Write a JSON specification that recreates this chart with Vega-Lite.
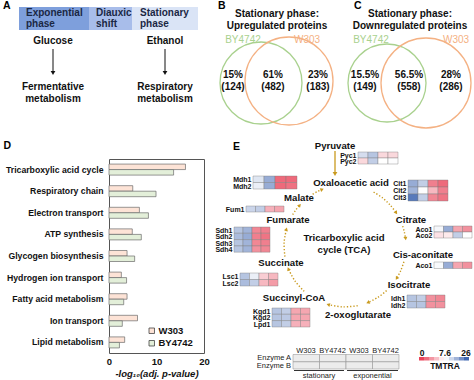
{
 "$schema": "https://vega.github.io/schema/vega-lite/v6.json",
 "padding": {"left": 2, "top": 0, "right": 0, "bottom": 0},
 "spacing": 0,
 "resolve": {"scale": {"fill": "independent", "color": "independent", "stroke": "independent", "size": "independent"}},
 "config": {
  "font": "Liberation Sans",
  "view": {"stroke": null},
  "axis": {"labelFont": "Liberation Sans", "titleFont": "Liberation Sans"},
  "legend": {"labelFont": "Liberation Sans"},
  "title": {"font": "Liberation Sans"},
  "text": {"font": "Liberation Sans"}
 },
 "datasets": {
  "hdr": [
   {"phase": "Exponential", "x": 18, "x2": 88, "y": 7, "y2": 30},
   {"phase": "Diauxic", "x": 88, "x2": 131, "y": 7, "y2": 30},
   {"phase": "Stationary", "x": 131, "x2": 197, "y": 7, "y2": 30}
  ],
  "hdrtext": [
   {"t": "Exponential", "x": 25, "y": 13}, {"t": "phase", "x": 25, "y": 24},
   {"t": "Diauxic", "x": 95, "y": 13}, {"t": "shift", "x": 95, "y": 24},
   {"t": "Stationary", "x": 139, "y": 13}, {"t": "phase", "x": 139, "y": 24}
  ],
  "atext": [
   {"t": "Glucose", "x": 52, "y": 41}, {"t": "Ethanol", "x": 164, "y": 41},
   {"t": "Fermentative", "x": 52, "y": 87}, {"t": "metabolism", "x": 52, "y": 99},
   {"t": "Respiratory", "x": 164, "y": 87}, {"t": "metabolism", "x": 164, "y": 99}
  ],
  "aarrow": [{"x": 52, "y": 49, "y2": 72}, {"x": 164, "y": 49, "y2": 72}],
  "aarrowhead": [{"x": 52, "y": 73}, {"x": 164, "y": 73}],
  "letters": [{"t": "A", "x": 2, "y": 1}, {"t": "B", "x": 217, "y": 1}, {"t": "C", "x": 353, "y": 1}],
  "venntitle": [
   {"t": "Stationary phase:", "x": 276, "y": 14}, {"t": "Upregulated proteins", "x": 276, "y": 26},
   {"t": "Stationary phase:", "x": 409, "y": 14}, {"t": "Downregulated proteins", "x": 409, "y": 26}
  ],
  "vennpct": [
   {"t": "15%", "x": 232, "y": 75}, {"t": "(124)", "x": 232, "y": 87},
   {"t": "61%", "x": 272, "y": 75}, {"t": "(482)", "x": 272, "y": 87},
   {"t": "23%", "x": 317, "y": 75}, {"t": "(183)", "x": 317, "y": 87},
   {"t": "15.5%", "x": 364, "y": 75}, {"t": "(149)", "x": 364, "y": 87},
   {"t": "56.5%", "x": 408, "y": 75}, {"t": "(558)", "x": 408, "y": 87},
   {"t": "28%", "x": 450, "y": 75}, {"t": "(286)", "x": 450, "y": 87}
  ],
  "vennlab": [
   {"t": "BY4742", "strain": "BY4742", "x": 242, "y": 40}, {"t": "W303", "strain": "W303", "x": 306, "y": 40},
   {"t": "BY4742", "strain": "BY4742", "x": 370, "y": 40}, {"t": "W303", "strain": "W303", "x": 455, "y": 40}
  ],
  "venncirc": [
   {"strain": "BY4742", "x": 260, "y": 83, "r": 41}, {"strain": "W303", "x": 288, "y": 81, "r": 44},
   {"strain": "BY4742", "x": 386, "y": 83, "r": 39}, {"strain": "W303", "x": 425, "y": 83, "r": 45}
  ],
  "go": [
   {"term": "Tricarboxylic acid cycle", "strain": "W303", "value": 16.1},
   {"term": "Tricarboxylic acid cycle", "strain": "BY4742", "value": 13.6},
   {"term": "Respiratory chain", "strain": "W303", "value": 5.0},
   {"term": "Respiratory chain", "strain": "BY4742", "value": 9.9},
   {"term": "Electron transport", "strain": "W303", "value": 6.4},
   {"term": "Electron transport", "strain": "BY4742", "value": 8.3},
   {"term": "ATP synthesis", "strain": "W303", "value": 4.9},
   {"term": "ATP synthesis", "strain": "BY4742", "value": 6.8},
   {"term": "Glycogen biosynthesis", "strain": "W303", "value": 3.8},
   {"term": "Glycogen biosynthesis", "strain": "BY4742", "value": 5.4},
   {"term": "Hydrogen ion transport", "strain": "W303", "value": 2.6},
   {"term": "Hydrogen ion transport", "strain": "BY4742", "value": 3.7},
   {"term": "Fatty acid metabolism", "strain": "W303", "value": 3.8},
   {"term": "Fatty acid metabolism", "strain": "BY4742", "value": 3.1},
   {"term": "Ion transport", "strain": "W303", "value": 6.0},
   {"term": "Ion transport", "strain": "BY4742", "value": 2.8},
   {"term": "Lipid metabolism", "strain": "W303", "value": 3.3},
   {"term": "Lipid metabolism", "strain": "BY4742", "value": 2.2}
  ],
  "tca": [
   {"seg": 1, "o": 1, "x": 372.6, "y": 192.1}, {"seg": 1, "o": 2, "x": 381.6, "y": 197.9}, {"seg": 1, "o": 3, "x": 389.3, "y": 205.2}, {"seg": 1, "o": 4, "x": 395.2, "y": 212.8},
   {"seg": 2, "o": 1, "x": 401.7, "y": 226.1}, {"seg": 2, "o": 2, "x": 403.4, "y": 232.3}, {"seg": 2, "o": 3, "x": 404.6, "y": 238.6},
   {"seg": 3, "o": 1, "x": 402.9, "y": 261.8}, {"seg": 3, "o": 2, "x": 399.7, "y": 270.8}, {"seg": 3, "o": 3, "x": 395.7, "y": 278.3},
   {"seg": 4, "o": 1, "x": 385.6, "y": 290.6}, {"seg": 4, "o": 2, "x": 377.2, "y": 297.2}, {"seg": 4, "o": 3, "x": 366.9, "y": 302.6},
   {"seg": 5, "o": 1, "x": 356.7, "y": 305.7}, {"seg": 5, "o": 2, "x": 341.9, "y": 306.9}, {"seg": 5, "o": 3, "x": 327.2, "y": 304.6},
   {"seg": 6, "o": 1, "x": 303.2, "y": 291.3}, {"seg": 6, "o": 2, "x": 294.0, "y": 281.0}, {"seg": 6, "o": 3, "x": 287.4, "y": 268.9},
   {"seg": 7, "o": 1, "x": 283.9, "y": 256.6}, {"seg": 7, "o": 2, "x": 283.1, "y": 242.8}, {"seg": 7, "o": 3, "x": 285.4, "y": 229.2},
   {"seg": 8, "o": 1, "x": 291.7, "y": 214.6}, {"seg": 8, "o": 2, "x": 294.7, "y": 210.1}, {"seg": 8, "o": 3, "x": 298.7, "y": 205.2},
   {"seg": 9, "o": 1, "x": 311.7, "y": 194.3}, {"seg": 9, "o": 2, "x": 316.3, "y": 191.6}, {"seg": 9, "o": 3, "x": 321.1, "y": 189.5}
  ],
  "tcahead": [
   {"x": 395.2, "y": 212.8, "a": 147}, {"x": 404.6, "y": 238.6, "a": 173}, {"x": 395.7, "y": 278.3, "a": 212},
   {"x": 366.9, "y": 302.6, "a": 248}, {"x": 327.2, "y": 304.6, "a": 286}, {"x": 287.4, "y": 268.9, "a": 338},
   {"x": 285.4, "y": 229.2, "a": 16}, {"x": 298.7, "y": 205.2, "a": 42}, {"x": 321.1, "y": 189.5, "a": 68}
  ],
  "pyrarrow": [{"x": 334, "y": 151, "y2": 172}],
  "pyrhead": [{"x": 334, "y": 174}],
  "metab": [
   {"t": "Pyruvate", "x": 334, "y": 145.5}, {"t": "Oxaloacetic acid", "x": 350, "y": 183},
   {"t": "Citrate", "x": 410, "y": 220}, {"t": "Cis-aconitate", "x": 422, "y": 255},
   {"t": "Isocitrate", "x": 408, "y": 285}, {"t": "2-oxoglutarate", "x": 357, "y": 315},
   {"t": "Succinyl-CoA", "x": 293, "y": 298}, {"t": "Succinate", "x": 280, "y": 263},
   {"t": "Fumarate", "x": 287, "y": 220}, {"t": "Malate", "x": 298, "y": 198},
   {"t": "Tricarboxylic  acid", "x": 343, "y": 238}, {"t": "cycle (TCA)", "x": 343, "y": 250}
  ],
  "heat": [
   {"e": "Pyc1", "x1": 357, "x2": 367, "x3": 377, "x4": 387, "x5": 397, "y": 152, "y2": 158, "v1": 11.3, "v2": 14, "v3": 6.1, "v4": 6.1},
   {"e": "Pyc2", "x1": 357, "x2": 367, "x3": 377, "x4": 387, "x5": 397, "y": 158, "y2": 164, "v1": 6.1, "v2": 13, "v3": 7.6, "v4": 7.8},
   {"e": "Mdh1", "x1": 252, "x2": 263, "x3": 274, "x4": 285, "x5": 296, "y": 176, "y2": 182.5, "v1": 10.4, "v2": 16.8, "v3": 1.9, "v4": 1.9},
   {"e": "Mdh2", "x1": 252, "x2": 263, "x3": 274, "x4": 285, "x5": 296, "y": 182.5, "y2": 189, "v1": 9.4, "v2": 16.8, "v3": 1.9, "v4": 2.2},
   {"e": "Cit1", "x1": 407, "x2": 417, "x3": 427, "x4": 437, "x5": 447, "y": 180, "y2": 187, "v1": 16.8, "v2": 13, "v3": 2.7, "v4": 1.9},
   {"e": "Cit2", "x1": 407, "x2": 417, "x3": 427, "x4": 437, "x5": 447, "y": 187, "y2": 194, "v1": 15.9, "v2": 7.8, "v3": 4.9, "v4": 2.7},
   {"e": "Cit3", "x1": 407, "x2": 417, "x3": 427, "x4": 437, "x5": 447, "y": 194, "y2": 201, "v1": 22.3, "v2": 13, "v3": 3, "v4": 2.3},
   {"e": "Fum1", "x1": 245, "x2": 254.5, "x3": 264, "x4": 273.5, "x5": 283, "y": 206, "y2": 212, "v1": 12.2, "v2": 13, "v3": 4.6, "v4": 4.2},
   {"e": "Sdh1", "x1": 233, "x2": 242, "x3": 251, "x4": 260, "x5": 269, "y": 227, "y2": 233.3, "v1": 14, "v2": 15.9, "v3": 3, "v4": 2.7},
   {"e": "Sdh2", "x1": 233, "x2": 242, "x3": 251, "x4": 260, "x5": 269, "y": 233.3, "y2": 239.6, "v1": 15, "v2": 16.8, "v3": 2.7, "v4": 2.3},
   {"e": "Sdh3", "x1": 233, "x2": 242, "x3": 251, "x4": 260, "x5": 269, "y": 239.6, "y2": 245.9, "v1": 14, "v2": 15.9, "v3": 3, "v4": 2.7},
   {"e": "Sdh4", "x1": 233, "x2": 242, "x3": 251, "x4": 260, "x5": 269, "y": 245.9, "y2": 252.2, "v1": 14, "v2": 15.9, "v3": 3.4, "v4": 3},
   {"e": "Lsc1", "x1": 239, "x2": 248.5, "x3": 258, "x4": 267.5, "x5": 277, "y": 273, "y2": 279.5, "v1": 14, "v2": 9.4, "v3": 5.7, "v4": 4.9},
   {"e": "Lsc2", "x1": 239, "x2": 248.5, "x3": 258, "x4": 267.5, "x5": 277, "y": 279.5, "y2": 286, "v1": 15, "v2": 13, "v3": 4.9, "v4": 3.8},
   {"e": "Aco1", "x1": 433, "x2": 442.5, "x3": 452, "x4": 461.5, "x5": 471, "y": 226, "y2": 232, "v1": 8.5, "v2": 16.8, "v3": 4.2, "v4": 3.4},
   {"e": "Aco2", "x1": 433, "x2": 442.5, "x3": 452, "x4": 461.5, "x5": 471, "y": 232, "y2": 238, "v1": 6.5, "v2": 6.8, "v3": 13, "v4": 7.6},
   {"e": "Aco1", "x1": 433, "x2": 442.5, "x3": 452, "x4": 461.5, "x5": 471, "y": 262, "y2": 268.5, "v1": 8.2, "v2": 16.8, "v3": 4.2, "v4": 3.4},
   {"e": "Idh1", "x1": 406, "x2": 415.5, "x3": 425, "x4": 434.5, "x5": 444, "y": 295, "y2": 301.5, "v1": 14, "v2": 13, "v3": 3.4, "v4": 3},
   {"e": "Idh2", "x1": 406, "x2": 415.5, "x3": 425, "x4": 434.5, "x5": 444, "y": 301.5, "y2": 308, "v1": 14, "v2": 14, "v3": 3.4, "v4": 3.4},
   {"e": "Kgd1", "x1": 271, "x2": 280.5, "x3": 290, "x4": 299.5, "x5": 309, "y": 308, "y2": 314.3, "v1": 14, "v2": 13, "v3": 4.2, "v4": 4.2},
   {"e": "Kgd2", "x1": 271, "x2": 280.5, "x3": 290, "x4": 299.5, "x5": 309, "y": 314.3, "y2": 320.6, "v1": 14, "v2": 13.5, "v3": 4.2, "v4": 4.2},
   {"e": "Lpd1", "x1": 271, "x2": 280.5, "x3": 290, "x4": 299.5, "x5": 309, "y": 320.6, "y2": 327, "v1": 14, "v2": 13, "v3": 4.6, "v4": 4.6}
  ],
  "legcells": [
   {"x": 292, "x2": 318.5, "y": 354.5, "y2": 361.8}, {"x": 318.5, "x2": 345, "y": 354.5, "y2": 361.8},
   {"x": 345, "x2": 371.5, "y": 354.5, "y2": 361.8}, {"x": 371.5, "x2": 398, "y": 354.5, "y2": 361.8},
   {"x": 292, "x2": 318.5, "y": 361.8, "y2": 369}, {"x": 318.5, "x2": 345, "y": 361.8, "y2": 369},
   {"x": 345, "x2": 371.5, "y": 361.8, "y2": 369}, {"x": 371.5, "x2": 398, "y": 361.8, "y2": 369}
  ],
  "legc": [
   {"t": "W303", "x": 305, "y": 351}, {"t": "BY4742", "x": 331.5, "y": 351},
   {"t": "W303", "x": 358, "y": 351}, {"t": "BY4742", "x": 384.5, "y": 351},
   {"t": "stationary", "x": 318, "y": 375.5}, {"t": "exponential", "x": 371.5, "y": 375.5}
  ],
  "legr": [{"t": "Enzyme A", "x": 290, "y": 358}, {"t": "Enzyme B", "x": 290, "y": 365.5}],
  "brackets": [{"x": 293, "x2": 343, "y": 370.5}, {"x": 346, "x2": 397, "y": 370.5}],
  "cbar": [
   {"x": 418, "x2": 423, "v": 0.4}, {"x": 423, "x2": 428, "v": 2}, {"x": 428, "x2": 433, "v": 3.6},
   {"x": 433, "x2": 438, "v": 5.2}, {"x": 438, "x2": 443, "v": 6.8}, {"x": 443, "x2": 448, "v": 8.5},
   {"x": 448, "x2": 453, "v": 12}, {"x": 453, "x2": 458, "v": 16}, {"x": 458, "x2": 463, "v": 20},
   {"x": 463, "x2": 468, "v": 24.5}
  ],
  "cbartext": [
   {"t": "0", "x": 421, "y": 353}, {"t": "7.6", "x": 444, "y": 353}, {"t": "26", "x": 465, "y": 353},
   {"t": "TMTRA", "x": 444, "y": 365.5}
  ],
  "eletter": [{"t": "E", "x": 232, "y": 142}]
 },
 "vconcat": [
  {
   "width": 366,
   "height": 140,
   "layer": [
    {
     "data": {"name": "hdr"},
     "mark": {"type": "rect"},
     "encoding": {
      "x": {"field": "x", "type": "quantitative", "scale": {"domain": [108, 474], "nice": false, "zero": false}, "axis": null},
      "x2": {"field": "x2"},
      "y": {"field": "y", "type": "quantitative", "scale": {"domain": [0, 140], "nice": false, "zero": false, "reverse": true}, "axis": null},
      "y2": {"field": "y2"},
      "fill": {"field": "phase", "type": "nominal", "scale": {"domain": ["Exponential", "Diauxic", "Stationary"], "range": ["#7e9fdc", "#a8bdea", "#dae4f6"]}, "legend": null}
     }
    },
    {
     "data": {"name": "hdrtext"},
     "mark": {"type": "text", "align": "left", "baseline": "middle", "fontSize": 10, "fontWeight": "bold", "color": "#1a2744"},
     "encoding": {
      "x": {"field": "x", "type": "quantitative"},
      "y": {"field": "y", "type": "quantitative"},
      "text": {"field": "t"}
     }
    },
    {
     "data": {"name": "atext"},
     "mark": {"type": "text", "align": "center", "baseline": "middle", "fontSize": 10, "fontWeight": "bold", "color": "#111"},
     "encoding": {
      "x": {"field": "x", "type": "quantitative"},
      "y": {"field": "y", "type": "quantitative"},
      "text": {"field": "t"}
     }
    },
    {
     "data": {"name": "aarrow"},
     "mark": {"type": "rule", "color": "#111", "strokeWidth": 1},
     "encoding": {
      "x": {"field": "x", "type": "quantitative"},
      "y": {"field": "y", "type": "quantitative"},
      "y2": {"field": "y2"}
     }
    },
    {
     "data": {"name": "aarrowhead"},
     "mark": {"type": "point", "shape": "triangle-down", "filled": true, "size": 22, "color": "#111", "opacity": 1},
     "encoding": {
      "x": {"field": "x", "type": "quantitative"},
      "y": {"field": "y", "type": "quantitative"}
     }
    },
    {
     "data": {"name": "venncirc"},
     "mark": {"type": "point", "shape": "circle", "filled": false, "strokeWidth": 1.3, "opacity": 1},
     "encoding": {
      "x": {"field": "x", "type": "quantitative"},
      "y": {"field": "y", "type": "quantitative"},
      "size": {"field": "r", "type": "quantitative", "scale": {"type": "pow", "exponent": 2, "domain": [0, 50], "range": [0, 10000]}, "legend": null},
      "stroke": {"field": "strain", "type": "nominal", "scale": {"domain": ["BY4742", "W303"], "range": ["#a9d18e", "#f4b183"]}, "legend": null}
     }
    },
    {
     "data": {"name": "venntitle"},
     "mark": {"type": "text", "align": "center", "baseline": "middle", "fontSize": 10, "fontWeight": "bold", "color": "#111"},
     "encoding": {
      "x": {"field": "x", "type": "quantitative"},
      "y": {"field": "y", "type": "quantitative"},
      "text": {"field": "t"}
     }
    },
    {
     "data": {"name": "vennpct"},
     "mark": {"type": "text", "align": "center", "baseline": "middle", "fontSize": 10, "fontWeight": "bold", "color": "#111"},
     "encoding": {
      "x": {"field": "x", "type": "quantitative"},
      "y": {"field": "y", "type": "quantitative"},
      "text": {"field": "t"}
     }
    },
    {
     "data": {"name": "vennlab"},
     "mark": {"type": "text", "align": "center", "baseline": "middle", "fontSize": 10},
     "encoding": {
      "x": {"field": "x", "type": "quantitative"},
      "y": {"field": "y", "type": "quantitative"},
      "text": {"field": "t"},
      "color": {"field": "strain", "type": "nominal", "scale": {"domain": ["BY4742", "W303"], "range": ["#a9d18e", "#f4b183"]}, "legend": null}
     }
    },
    {
     "data": {"name": "letters"},
     "mark": {"type": "text", "align": "left", "baseline": "top", "fontSize": 10.5, "fontWeight": "bold", "color": "#000"},
     "encoding": {
      "x": {"field": "x", "type": "quantitative"},
      "y": {"field": "y", "type": "quantitative"},
      "text": {"field": "t"}
     }
    }
   ]
  },
  {
   "hconcat": [
    {
     "width": 95,
     "height": 194,
     "view": {"stroke": "#555", "strokeWidth": 1},
     "data": {"name": "go"},
     "mark": {"type": "bar", "stroke": "#6a6a6a", "strokeWidth": 0.7},
     "encoding": {
      "y": {
       "field": "term", "type": "nominal", "sort": null,
       "scale": {"paddingInner": 0.49, "paddingOuter": 0.235},
       "axis": {"title": "D", "titleAngle": 0, "titleAlign": "left", "titleBaseline": "alphabetic", "titleX": -106, "titleY": -10.5, "titleFontSize": 10.5, "titleFontWeight": "bold", "titleColor": "#000", "labelFontSize": 8.7, "labelFontWeight": "bold", "labelColor": "#111", "labelPadding": 6, "ticks": false, "domain": false, "labelLimit": 200}
      },
      "yOffset": {"field": "strain", "type": "nominal", "sort": ["W303", "BY4742"], "scale": {"paddingInner": 0, "paddingOuter": 0}},
      "x": {
       "field": "value", "type": "quantitative",
       "scale": {"domain": [0, 20], "nice": false},
       "axis": {"values": [0, 10, 20], "title": "-log₁₀(adj. p-value)", "labelFlush": false, "grid": false, "ticks": false, "domain": false, "labelFontSize": 9.5, "labelFontWeight": "bold", "labelColor": "#111", "labelPadding": 3, "titleFontSize": 9.5, "titleFontWeight": "bold", "titleFontStyle": "italic", "titleColor": "#111", "titlePadding": 3}
      },
      "fill": {
       "field": "strain", "type": "nominal",
       "scale": {"domain": ["W303", "BY4742"], "range": ["#fde3d6", "#e3efd9"]},
       "legend": {"title": null, "orient": "none", "legendX": 38, "legendY": 167, "symbolType": "square", "symbolSize": 30, "symbolStrokeColor": "#444", "symbolStrokeWidth": 0.8, "labelFontSize": 9.5, "labelFontWeight": "bold", "labelColor": "#111", "rowPadding": 1.5, "labelOffset": 2, "padding": 0}
      }
     }
    },
    {
     "width": 271,
     "height": 221,
     "layer": [
      {
       "data": {"name": "tca"},
       "mark": {"type": "line", "interpolate": "cardinal", "color": "#c99a1e", "strokeWidth": 1.4, "strokeDash": [1.3, 1.9]},
       "encoding": {
        "x": {"field": "x", "type": "quantitative", "scale": {"domain": [203, 474], "nice": false, "zero": false}, "axis": null},
        "y": {"field": "y", "type": "quantitative", "scale": {"domain": [159, 380], "nice": false, "zero": false, "reverse": true}, "axis": null},
        "detail": {"field": "seg", "type": "nominal"},
        "order": {"field": "o", "type": "quantitative"}
       }
      },
      {
       "data": {"name": "tcahead"},
       "mark": {"type": "point", "shape": "triangle-up", "filled": true, "size": 16, "color": "#c99a1e", "opacity": 1},
       "encoding": {
        "x": {"field": "x", "type": "quantitative"},
        "y": {"field": "y", "type": "quantitative"},
        "angle": {"field": "a", "type": "quantitative", "scale": null}
       }
      },
      {
       "data": {"name": "pyrarrow"},
       "mark": {"type": "rule", "color": "#c99a1e", "strokeWidth": 1.3},
       "encoding": {
        "x": {"field": "x", "type": "quantitative"},
        "y": {"field": "y", "type": "quantitative"},
        "y2": {"field": "y2"}
       }
      },
      {
       "data": {"name": "pyrhead"},
       "mark": {"type": "point", "shape": "triangle-down", "filled": true, "size": 22, "color": "#c99a1e", "opacity": 1},
       "encoding": {
        "x": {"field": "x", "type": "quantitative"},
        "y": {"field": "y", "type": "quantitative"}
       }
      },
      {
       "data": {"name": "metab"},
       "mark": {"type": "text", "align": "center", "baseline": "middle", "fontSize": 9.6, "fontWeight": "bold", "color": "#111"},
       "encoding": {
        "x": {"field": "x", "type": "quantitative"},
        "y": {"field": "y", "type": "quantitative"},
        "text": {"field": "t"}
       }
      },
      {
       "data": {"name": "heat"},
       "mark": {"type": "rect", "stroke": "#7a7a7a", "strokeWidth": 0.4},
       "encoding": {
        "x": {"field": "x1", "type": "quantitative"}, "x2": {"field": "x2"},
        "y": {"field": "y", "type": "quantitative"}, "y2": {"field": "y2"},
        "color": {"field": "v1", "type": "quantitative", "scale": {"type": "linear", "domain": [0, 7.6, 26], "range": ["#e8384f", "#ffffff", "#2e58aa"], "interpolate": "rgb"}, "legend": null}
       }
      },
      {
       "data": {"name": "heat"},
       "mark": {"type": "rect", "stroke": "#7a7a7a", "strokeWidth": 0.4},
       "encoding": {
        "x": {"field": "x2", "type": "quantitative"}, "x2": {"field": "x3"},
        "y": {"field": "y", "type": "quantitative"}, "y2": {"field": "y2"},
        "color": {"field": "v2", "type": "quantitative", "legend": null}
       }
      },
      {
       "data": {"name": "heat"},
       "mark": {"type": "rect", "stroke": "#7a7a7a", "strokeWidth": 0.4},
       "encoding": {
        "x": {"field": "x3", "type": "quantitative"}, "x2": {"field": "x4"},
        "y": {"field": "y", "type": "quantitative"}, "y2": {"field": "y2"},
        "color": {"field": "v3", "type": "quantitative", "legend": null}
       }
      },
      {
       "data": {"name": "heat"},
       "mark": {"type": "rect", "stroke": "#7a7a7a", "strokeWidth": 0.4},
       "encoding": {
        "x": {"field": "x4", "type": "quantitative"}, "x2": {"field": "x5"},
        "y": {"field": "y", "type": "quantitative"}, "y2": {"field": "y2"},
        "color": {"field": "v4", "type": "quantitative", "legend": null}
       }
      },
      {
       "data": {"name": "heat"},
       "mark": {"type": "text", "align": "right", "baseline": "top", "dx": -1.5, "dy": 0, "fontSize": 7, "fontWeight": "bold", "color": "#111"},
       "encoding": {
        "x": {"field": "x1", "type": "quantitative"},
        "y": {"field": "y", "type": "quantitative"},
        "text": {"field": "e"}
       }
      },
      {
       "data": {"name": "legcells"},
       "mark": {"type": "rect", "fill": "#ececec", "stroke": "#8a8a8a", "strokeWidth": 0.5},
       "encoding": {
        "x": {"field": "x", "type": "quantitative"}, "x2": {"field": "x2"},
        "y": {"field": "y", "type": "quantitative"}, "y2": {"field": "y2"}
       }
      },
      {
       "data": {"name": "legc"},
       "mark": {"type": "text", "align": "center", "baseline": "middle", "fontSize": 7.5, "color": "#222"},
       "encoding": {
        "x": {"field": "x", "type": "quantitative"},
        "y": {"field": "y", "type": "quantitative"},
        "text": {"field": "t"}
       }
      },
      {
       "data": {"name": "legr"},
       "mark": {"type": "text", "align": "right", "baseline": "middle", "fontSize": 7.5, "color": "#222"},
       "encoding": {
        "x": {"field": "x", "type": "quantitative"},
        "y": {"field": "y", "type": "quantitative"},
        "text": {"field": "t"}
       }
      },
      {
       "data": {"name": "brackets"},
       "mark": {"type": "rule", "color": "#333", "strokeWidth": 1},
       "encoding": {
        "x": {"field": "x", "type": "quantitative"}, "x2": {"field": "x2"},
        "y": {"field": "y", "type": "quantitative"}
       }
      },
      {
       "data": {"name": "cbar"},
       "mark": {"type": "rect"},
       "encoding": {
        "x": {"field": "x", "type": "quantitative"}, "x2": {"field": "x2"},
        "y": {"datum": 357, "type": "quantitative"}, "y2": {"datum": 360.5},
        "color": {"field": "v", "type": "quantitative", "legend": null}
       }
      },
      {
       "data": {"name": "cbartext"},
       "mark": {"type": "text", "align": "center", "baseline": "middle", "fontSize": 8.5, "fontWeight": "bold", "color": "#111"},
       "encoding": {
        "x": {"field": "x", "type": "quantitative"},
        "y": {"field": "y", "type": "quantitative"},
        "text": {"field": "t"}
       }
      },
      {
       "data": {"name": "eletter"},
       "mark": {"type": "text", "align": "left", "baseline": "top", "fontSize": 10.5, "fontWeight": "bold", "color": "#000"},
       "encoding": {
        "x": {"field": "x", "type": "quantitative"},
        "y": {"field": "y", "type": "quantitative"},
        "text": {"field": "t"}
       }
      }
     ]
    }
   ],
   "spacing": 0,
   "bounds": "flush",
   "resolve": {"scale": {"fill": "independent", "color": "independent", "stroke": "independent", "size": "independent"}}
  }
 ]
}
